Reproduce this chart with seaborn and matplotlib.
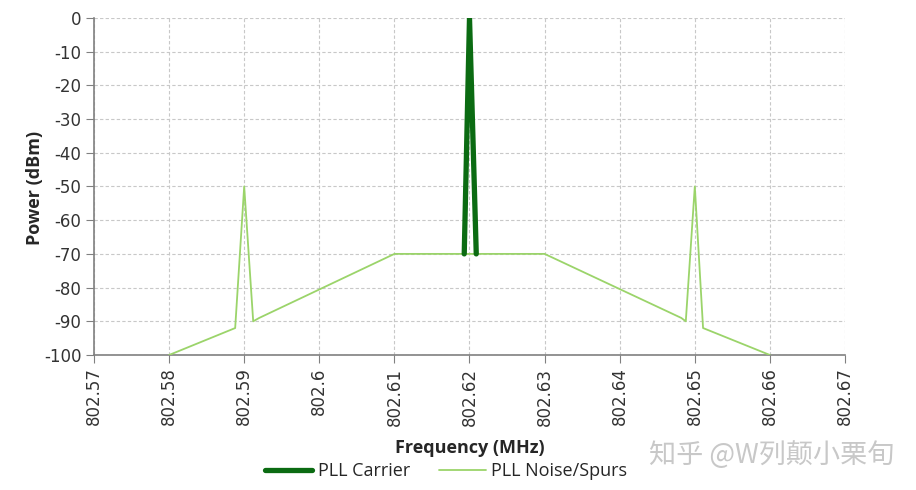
import numpy as np
import pandas as pd
import matplotlib
matplotlib.use("Agg")
import matplotlib.pyplot as plt
from matplotlib.ticker import FuncFormatter
import seaborn as sns

# carrier peak
carrier_freq = [802.6193, 802.6200, 802.6209]
carrier_power = [-70, 0, -70]

# noise floor with two spurs
noise_freq = [802.5800, 802.5888, 802.5900, 802.5912, 802.5920, 802.6100,
              802.6300, 802.6482, 802.6488, 802.6500, 802.6511, 802.6600]
noise_power = [-100, -92, -50, -90, -89, -70,
               -70, -89, -90, -50, -92, -100]

x_ticks = [802.57, 802.58, 802.59, 802.60, 802.61, 802.62,
           802.63, 802.64, 802.65, 802.66, 802.67]
y_ticks = list(range(-100, 1, 10))

carrier_color = "#0b6b12"
noise_color = "#9bd46a"

sns.set_style("white")
plt.rcParams['font.family'] = ['Open Sans', 'DejaVu Sans']
plt.rcParams['axes.unicode_minus'] = False

fig = plt.figure(figsize=(9.16, 4.9), dpi=100)
ax = fig.add_axes([0.1026, 0.2755, 0.8199, 0.6878])

noise_df = pd.DataFrame({"freq": noise_freq, "power": noise_power})
carrier_df = pd.DataFrame({"freq": carrier_freq, "power": carrier_power})

sns.lineplot(data=noise_df, x="freq", y="power", ax=ax, color=noise_color,
             linewidth=1.3, sort=False, label="PLL Noise/Spurs", zorder=3)
sns.lineplot(data=carrier_df, x="freq", y="power", ax=ax, color=carrier_color,
             linewidth=3.8, sort=False, label="PLL Carrier", zorder=4)

ax.set_xlim(802.57, 802.67)
ax.set_ylim(-100, 0)
ax.set_xticks(x_ticks)
ax.set_yticks(y_ticks)
ax.xaxis.set_major_formatter(FuncFormatter(lambda v, p: f"{v:.2f}".rstrip('0').rstrip('.')))
ax.grid(True, color="#c8c8c8", linestyle=(0, (3, 2)), linewidth=0.8)
ax.set_axisbelow(True)

for s in ["top", "right"]:
    ax.spines[s].set_visible(False)
for s in ["left", "bottom"]:
    ax.spines[s].set_color("#808080")
    ax.spines[s].set_linewidth(1.2)

ax.tick_params(axis="both", length=6, color="#808080", direction="out",
               bottom=True, left=True, labelcolor="#333333", pad=3)
ax.tick_params(axis="x", rotation=90)
for lbl in ax.get_xticklabels() + ax.get_yticklabels():
    lbl.set_fontfamily("DejaVu Sans")
    lbl.set_fontsize(12)

ax.set_xlabel("Frequency (MHz)", fontsize=13, fontweight="bold")
ax.set_ylabel("Power (dBm)", fontsize=13, fontweight="bold")
ax.xaxis.set_label_coords(0.5, -0.276)
ax.xaxis.label.set_va("center")
ax.yaxis.set_label_coords(-0.0786, 0.497)
ax.yaxis.label.set_va("center")

handles, labels = ax.get_legend_handles_labels()
order = [labels.index("PLL Carrier"), labels.index("PLL Noise/Spurs")]
ax.legend([handles[i] for i in order], [labels[i] for i in order],
          loc="center", bbox_to_anchor=(0.487, 0.039), bbox_transform=fig.transFigure,
          ncol=2, frameon=False, fontsize=13, handlelength=2.6, columnspacing=1.6,
          handletextpad=0.3)

fig.text(0.709, 0.071, "知乎 @W列颠小栗旬", fontsize=19.5, color="#c8c8c8",
         family=['Noto Sans CJK SC', 'DejaVu Sans'], va="center", ha="left")

fig.savefig("out.png", dpi=100)
